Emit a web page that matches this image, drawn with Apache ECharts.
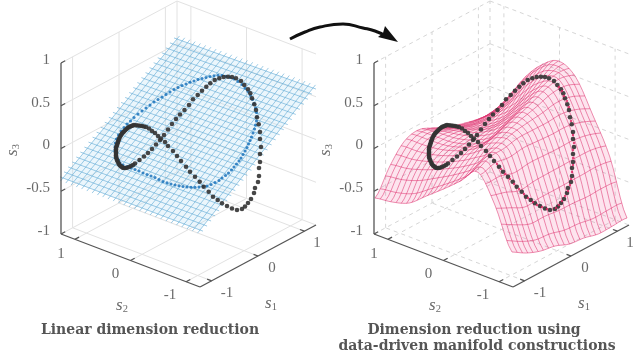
<!DOCTYPE html>
<html><head><meta charset="utf-8">
<style>html,body{margin:0;padding:0;background:#fff}#c{width:640px;height:360px}</style>
<script src="https://cdn.jsdelivr.net/npm/echarts@6/dist/echarts.min.js"></script>
</head><body><div id="c"></div>
<script>
// Tick values of the three axes
const s1Ticks = [-1, 0, 1];
const s2Ticks = [1, 0, -1];
const s3Ticks = [1, 0.5, 0, -0.5, -1];
const s3TickText = ['1', '0.5', '0', '-0.5', '-1'];

// Sample trajectory, in view-plane units (panel-local)
const blackU = [134,136,138,140,142,144,146,149,152,155,158,161,165,168,173,177,181,186,190,195,199.7,203.7,208.7,213,217.7,222,227,232,237,242,245,248,251,254,255,258,259,259,260,260,261,260,260,258.7,257,256,254.3,252,250.3,248,244.3,241,236,232,228,223.7,219.3,214.7,210.3,206.3,202,197.7,193,189,184.5,180,176,172,168,164,160,156,152,148,144,139.5,135,133,131,129,127,125.5,124,122.8,122,121,120,119,118.5,117.7,117,116.5,116,116,116,116,116,116,116,116.5,117,117.5,118,118.5,119,119.7,120.5,121.2,122,123,124,125.2,126.5,127.7,129,130.2,131.5,132.7];
const blackV = [125,125.2,125.5,125.7,126,126.5,127,128.5,131,133,136,138.5,142,146,151,156,161,166.7,171.7,176.7,181.7,186.7,191.7,196.7,200,203.3,206,208.5,210,209,206.5,203,199,193,188,182,176,168,162,154,147,139,132,124.3,117.3,110,104.3,98.3,93.3,89.3,85,81,78.3,77,76.7,77,78.3,80,83.3,86.7,90.7,95,99.3,105,110,114.5,119,124,129.5,135,140,144.5,149,153,156.5,160,163.5,165,166,167,167.7,168,168,167.7,167,166.3,165.5,164.3,163,161.5,160,158.5,157,155.5,154,152.5,151,149.5,148,146.5,145,143.5,142,140.5,139,137.5,136,134.7,133.5,132.5,131.5,130.2,129,128,127,126.5,126,125.6,125.3,125.1];

// Its projection on the linear plane
const blueU = [115,115,116,117,118.5,120,123,127,131,135,139,143,147,151,155,159,163,167,171,175,179,183,187,191,195,199,203,207,211,215,219,222,225.5,228.5,231.5,234,236.5,239,241,243,245,247,248.5,250,251.5,253,254.5,255.5,256.5,256.8,256.5,255.5,254,252.5,250.5,248,245,242,238,234,230,226,222,218,214,210,206,202,198,194,190,186,182,178,174,170,166,162,158,154,150,146,142,138,134,130.5,127,124,121,118.5,116.5,115.3];
const blueV = [147,151,154,157,160,163,165,166.5,168,169.5,171,173,174.5,176,177.5,179.5,181.5,182.8,184,185,185.8,186.5,187,187.2,187.2,187,186.5,186,184.5,182.5,180.5,178,175.5,173,170,167,164,161,158,154.5,151,147.5,144,140.5,137,133,129,125,121,117,112.5,108,103.5,99.5,95.5,91.5,88,84.5,81.5,79,77.5,76.3,75.5,75.3,75.7,76.5,77.5,78.5,79.5,81,82.2,84,85.5,87.5,89.5,92,94.5,97,99.5,102,105,108,111,114,117.5,121,124,127.5,131,135,139,143];

// Its projection on the curved manifold (small points between the black ones)
const pinkU = [243,246,249,252,255,257,258,259,260,260,260,261,260,258,256,254,251,249,246,184,188,192,197,201,206,211,215,220,224,229,234];
const pinkV = [208,205,201,196,191,185,179,172,165,158,150,143,135,121,107,101,96,91,87,164,169,174,179,184,189,194,198,202,205,207,209];

// Linear plane: corners top, right, bottom, left
const planeU = [177, 313, 200, 63];
const planeV = [39, 88, 230, 178];
const planeRows = 28;
const planeCols = 26;

// Manifold: corner screen positions left, bottom, right, top
const surfU = [62, 199, 314, 177];
// Height table: rows go from the left-bottom edge to the
// top-right edge, columns from the left-top edge to the bottom-right edge
const surfV = [
 [198,202,203,196,189,181,172,205,252],
 [167,171,172,171,169,165,159,204,253],
 [142,148,152,153,151,146,152,203,251],
 [130,135,141,143,141,131,142,194,246],
 [128,130,132,132,127,117,135,186,244],
 [127,127,126,122,112,104,128,178,238],
 [124,122,115,107, 94, 90,120,170,234],
 [120,112,100, 84, 75, 80,116,162,226],
 [115,100, 78, 65, 61, 77,115,157,218]
];
const surfRows = 22;
const surfCols = 26;

// Arrow between the panels
const arrowU = [290,305,320,343,363,375,386];
const arrowV = [39,32,27,24,28,31,36];
const arrowHeadU = [398,385,383,378];
const arrowHeadV = [42,26,33,37];

// Titles
const leftTitle = 'Linear dimension reduction';
const rightTitle = ['Dimension reduction using', 'data-driven manifold constructions'];

// Box projection
const ORIGIN = [188.5, 144], E1 = [46.4, -24.8], E2 = [-55.6, -21.2], E3 = [0, -85.5], R = 1.25;
function proj(a, b, c) {
  return [ORIGIN[0] + a*E1[0] + b*E2[0] + c*E3[0], ORIGIN[1] + a*E1[1] + b*E2[1] + c*E3[1]];
}
const lerp = (a, b, t) => a + (b - a) * t;
const series = [];
const AXIS = '#555';
const serif = '"Liberation Serif"';

function line(pts, grid, color, width, z, extra) {
  series.push(Object.assign({
    type: 'line', xAxisIndex: grid, yAxisIndex: grid, data: pts, showSymbol: false, symbol: 'none',
    silent: true, animation: false, z: z,
    lineStyle: { color, width, type: 'solid' }
  }, extra || {}));
}
function texts(items, grid, style, z) {
  series.push({
    type: 'scatter', xAxisIndex: grid, yAxisIndex: grid, symbolSize: 0, silent: true, animation: false, z: z || 20,
    data: items.map(it => ({ value: [it[0], it[1]], label: Object.assign({}, it[3] || {}, { formatter: it[2] }) })),
    label: Object.assign({ show: true, position: 'inside', align: 'center', verticalAlign: 'middle' }, style)
  });
}
function poly(cells, grid, color, z) {
  series.push({
    type: 'custom', xAxisIndex: grid, yAxisIndex: grid, silent: true, animation: false, z: z,
    data: cells.map((c, i) => [c[0][0], c[0][1], i]),
    encode: { x: 0, y: 1 },
    renderItem: (params, api) => {
      const c = cells[api.value(2)];
      return { type: 'polygon', shape: { points: c.map(p => api.coord(p)) }, style: { fill: color } };
    }
  });
}

function box(grid, dashed) {
  const col = dashed ? '#d6d6d6' : '#e2e2e2';
  const ex = dashed ? { lineStyle: { color: col, width: 1, type: [4, 4] } } : {};
  const L = (a, b) => line([a, b], grid, col, 1, 1, ex);
  s3Ticks.forEach(c => {
    L(proj(-R, R, c), proj(R, R, c));
    L(proj(R, R, c), proj(R, -R, c));
  });
  s1Ticks.forEach(a => {
    L(proj(a, R, -1), proj(a, R, 1));
    L(proj(a, -R, -1), proj(a, R, -1));
  });
  s2Ticks.forEach(b => {
    L(proj(R, b, -1), proj(R, b, 1));
    L(proj(-R, b, -1), proj(R, b, -1));
  });
  L(proj(R, R, -1), proj(R, R, 1));
}

function frontAxes(grid) {
  const A = (a, b) => line([a, b], grid, AXIS, 1.3, 6);
  A(proj(-R, R, -1), proj(-R, R, 1));
  A(proj(-R, R, -1), proj(-R, -R, -1));
  A(proj(-R, -R, -1), proj(R, -R, -1));
  s3Ticks.forEach(c => A(proj(-R, R, c), proj(-R + 0.09, R, c)));
  s2Ticks.forEach(b => A(proj(-R, b, -1), proj(-R + 0.09, b, -1)));
  s1Ticks.forEach(a => A(proj(a, -R, -1), proj(a, -R + 0.08, -1)));
  const tick = { fontFamily: serif, fontSize: 15, color: '#444' };
  texts(s3Ticks.map((c, i) => [50, 145.5 - c * 85.5, s3TickText[i], { align: 'right' }]), grid, tick);
  texts(s2Ticks.map((b, i) => [61 + 54.5 * i, 254 + 20.5 * i, String(b)]), grid, tick);
  texts(s1Ticks.map((a, i) => [227 + 45 * i, 293 - 25 * i, String(a)]), grid, tick);
  const rich = { i: { fontFamily: serif, fontStyle: 'italic', fontSize: 17, color: '#444' }, n: { fontFamily: serif, fontSize: 10.5, color: '#444', padding: [7, 0, 0, 0] } };
  texts([[122, 306, '{i|s}{n|2}'], [271, 304, '{i|s}{n|1}']], grid, { rich });
  texts([[13, 150, '{i|s}{n|3}', { rotate: 90 }]], grid, { rich });
}

// ---- left panel
box(0, false);
const cor = planeU.map((u, i) => [u, planeV[i]]);
const planePoint = (r, c) => {           // r along top->left, c along top->right
  const top = [lerp(cor[0][0], cor[1][0], c), lerp(cor[0][1], cor[1][1], c)];
  const bot = [lerp(cor[3][0], cor[2][0], c), lerp(cor[3][1], cor[2][1], c)];
  return [lerp(top[0], bot[0], r), lerp(top[1], bot[1], r)];
};
poly([cor], 0, 'rgba(190,225,245,0.3)', 2);
const over = 0.022;
for (let i = 0; i <= planeRows; i++) line([planePoint(i / planeRows, -over), planePoint(i / planeRows, 1 + over)], 0, 'rgba(95,170,212,0.68)', 0.9, 3);
for (let j = 0; j <= planeCols; j++) line([planePoint(-over, j / planeCols), planePoint(1 + over, j / planeCols)], 0, 'rgba(95,170,212,0.68)', 0.9, 3);
frontAxes(0);
series.push({ type: 'scatter', xAxisIndex: 0, yAxisIndex: 0, z: 8, silent: true, animation: false, symbolSize: 3.1,
  data: blueU.map((u, i) => [u, blueV[i]]), itemStyle: { color: '#0f6cb8' } });
series.push({ type: 'scatter', xAxisIndex: 0, yAxisIndex: 0, z: 9, silent: true, animation: false, symbolSize: 4.6,
  data: blackU.map((u, i) => [u, blackV[i]]), itemStyle: { color: '#333', opacity: 0.9 } });

// ---- right panel
box(1, true);
const cr = (a, b, c, d, t) => 0.5 * (2*b + (c-a)*t + (2*a-5*b+4*c-d)*t*t + (3*b-a-3*c+d)*t*t*t);
const nr = surfV.length, nc = surfV[0].length;
const at = (i, j) => surfV[Math.max(0, Math.min(nr-1, i))][Math.max(0, Math.min(nc-1, j))];
function surfPoint(q, p) {
  const fi = q * (nr-1), fj = p * (nc-1);
  const i = Math.min(nr-2, Math.floor(fi)), j = Math.min(nc-2, Math.floor(fj));
  const ti = fi - i, tj = fj - j;
  const row = [-1,0,1,2].map(k => cr(at(i+k,j-1), at(i+k,j), at(i+k,j+1), at(i+k,j+2), tj));
  const x = surfU[0] + (surfU[1]-surfU[0]) * p + (surfU[3]-surfU[0]) * q;
  return [x, cr(row[0], row[1], row[2], row[3], ti)];
}
const cells = [];
for (let i = 0; i < surfRows; i++) for (let j = 0; j < surfCols; j++) {
  const a = i / surfRows, b = (i+1) / surfRows, c = j / surfCols, d = (j+1) / surfCols;
  cells.push([surfPoint(a,c), surfPoint(a,d), surfPoint(b,d), surfPoint(b,c)]);
}
poly(cells, 1, 'rgba(245,120,170,0.2)', 2);
const SAMPLE = 40, pinkLine = 'rgba(222,50,110,0.72)';
for (let i = 0; i <= surfRows; i++) {
  const pts = []; for (let k = 0; k <= SAMPLE; k++) pts.push(surfPoint(i / surfRows, k / SAMPLE));
  line(pts, 1, pinkLine, 0.75, 3);
}
for (let j = 0; j <= surfCols; j++) {
  const pts = []; for (let k = 0; k <= SAMPLE; k++) pts.push(surfPoint(k / SAMPLE, j / surfCols));
  line(pts, 1, pinkLine, 0.75, 3);
}
frontAxes(1);
series.push({ type: 'scatter', xAxisIndex: 1, yAxisIndex: 1, z: 9, silent: true, animation: false, symbolSize: 4.6,
  data: blackU.map((u, i) => [u, blackV[i]]), itemStyle: { color: '#333', opacity: 0.9 } });
series.push({ type: 'scatter', xAxisIndex: 1, yAxisIndex: 1, z: 10, silent: true, animation: false, symbolSize: 2.4,
  data: pinkU.map((u, i) => [u, pinkV[i]]), itemStyle: { color: '#e0205f' } });

// ---- arrow and titles
line(arrowU.map((u, i) => [u, arrowV[i]]), 2, '#111', 3, 12, { smooth: true });
poly([arrowHeadU.map((u, i) => [u, arrowHeadV[i]])], 2, '#111', 12);
const titleStyle = { fontFamily: '"DejaVu Serif"', fontWeight: 'bold', fontSize: 14, color: '#2b2b2b' };
texts([[150, 330, leftTitle], [474, 330, rightTitle[0]], [477, 346, rightTitle[1]]], 2, titleStyle);

const axisX = (i, max) => ({ type: 'value', gridIndex: i, min: 0, max, show: false });
const axisY = i => ({ type: 'value', gridIndex: i, min: 0, max: 360, inverse: true, show: false });
const chart = echarts.init(document.getElementById('c'), null, { renderer: 'canvas' });
chart.setOption({
  animation: false,
  backgroundColor: '#fff',
  grid: [
    { left: 0, top: 0, width: 320, height: 360 },
    { left: 313, top: 0, width: 320, height: 360 },
    { left: 0, top: 0, width: 640, height: 360 }
  ],
  xAxis: [axisX(0, 320), axisX(1, 320), axisX(2, 640)],
  yAxis: [axisY(0), axisY(1), axisY(2)],
  series
});
</script></body></html>
